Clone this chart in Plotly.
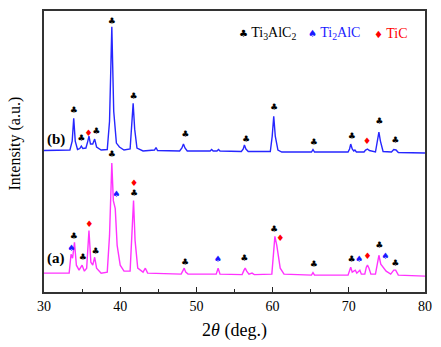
import plotly.graph_objects as go

# ---------------- data ----------------
# pattern (b): 2theta (deg) and intensity (a.u., stacked)
theta_b = [30.0, 33.4, 33.7, 33.9, 34.1, 34.4, 34.7, 34.9, 35.1, 35.5, 35.75, 35.9, 36.1, 36.4,
           36.65, 36.9, 37.5, 38.3, 38.6, 38.9, 39.15, 39.5, 39.9, 40.5, 41.3, 41.5, 41.7, 41.9,
           42.2, 43.0, 44.5, 44.7, 44.9, 47.8, 48.1, 48.3, 48.5, 48.8, 51.8, 52.0, 52.2, 52.7,
           52.9, 53.1, 55.9, 56.15, 56.3, 56.5, 56.8, 59.7, 59.95, 60.15, 60.35, 60.7, 61.2,
           65.1, 65.3, 65.5, 69.9, 70.1, 70.25, 70.45, 70.65, 70.8, 71.0, 72.0, 72.2, 72.45,
           72.7, 73.5, 73.75, 73.95, 74.15, 74.5, 75.6, 75.9, 76.2, 76.5, 80.0]
int_b = [142.5, 143, 152, 175, 152, 143.5, 144.5, 147, 144.5, 145, 152, 157, 149, 149,
         154, 146, 143, 143.5, 172, 267, 182, 150, 146, 143, 144, 167, 190, 164,
         145, 142, 143, 145.5, 142.5, 142, 145, 149, 145, 142, 142, 143.5, 142, 142,
         143.5, 142, 141.5, 144, 148, 144, 141.5, 141.5, 157, 177, 157, 143, 141,
         141, 143.5, 141, 141, 144, 149, 144, 142, 143, 141, 141, 143, 144,
         142.5, 141, 152, 161, 152, 141.5, 141, 143.5, 143, 140.5, 140]

# pattern (a)
theta_a = [30.0, 33.3, 33.55, 33.75, 34.0, 34.25, 34.6, 35.0, 35.3, 35.6, 35.9, 36.15, 36.4,
           36.65, 36.9, 37.5, 38.3, 38.6, 38.9, 39.1, 39.35, 39.6, 40.0, 40.5, 41.3, 41.55,
           41.75, 41.95, 42.3, 43.0, 43.3, 43.6, 48.0, 48.2, 48.4, 48.6, 48.9, 52.6, 52.85,
           53.1, 56.0, 56.25, 56.4, 56.6, 56.9, 57.3, 57.6, 59.9, 60.1, 60.3, 60.55, 60.75,
           61.0, 61.5, 65.1, 65.3, 65.5, 69.9, 70.1, 70.25, 70.45, 70.65, 70.85, 71.05, 71.25,
           71.45, 71.65, 72.1, 72.3, 72.45, 72.65, 72.9, 73.5, 73.75, 73.95, 74.2, 74.5, 74.7,
           74.9, 75.5, 75.9, 76.15, 76.5, 80.0]
int_a = [19, 19, 38, 34, 50, 27, 22, 27, 21, 24, 62, 30, 27,
         35, 24, 19, 20, 57, 130, 92, 84, 47, 27, 21, 21, 57,
         92, 52, 24, 20, 24, 19, 18, 21, 24, 20, 18, 18, 24,
         18, 17.5, 22, 24, 21, 18, 19, 17.5, 18, 42, 56, 47, 37,
         24, 18, 17, 19.5, 17, 17, 21, 25, 20, 21, 22, 19, 21,
         22, 18, 18, 25, 27, 24, 18, 18, 30, 37, 28, 25, 24,
         21, 18, 22, 22, 17, 16]

# phase marks: (2theta, intensity level of the symbol)
b_ti3alc2_x = [33.9, 34.9, 36.85, 38.9, 41.75, 48.55, 56.5, 60.2, 65.4, 70.4, 74.0, 76.1]
b_ti3alc2_y = [183, 154.7, 161.3, 272, 197, 158, 153.7, 186, 150.3, 156, 171, 152]
b_tic_x = [35.85, 72.4]
b_tic_y = [159.7, 151.3]

a_ti3alc2_x = [33.9, 35.1, 36.75, 38.9, 41.8, 48.5, 56.3, 60.2, 65.4, 70.35, 74.0, 76.1]
a_ti3alc2_y = [56, 34.7, 40.3, 138.7, 98.7, 29.3, 33, 62.7, 27, 32.7, 46.3, 28.7]
a_ti2alc_x = [33.57, 39.5, 52.8, 71.35, 74.8]
a_ti2alc_y = [43.7, 97.7, 32.5, 32, 35.3]
a_tic_x = [35.95, 41.8, 61.0, 72.45]
a_tic_y = [67.7, 108.7, 54, 35.3]

x_ticks = [30, 40, 50, 60, 70, 80]

# ---------------- styles ----------------
SERIF = "Liberation Serif, Times New Roman, serif"
SYM = "DejaVu Sans"
C_BLK, C_BLU, C_RED = "#000000", "#1a1aff", "#ff0000"
C_B, C_A = "#2626ff", "#ff33ff"

fig = go.Figure()
fig.add_trace(go.Scatter(x=theta_b, y=int_b, mode="lines",
                         line=dict(color=C_B, width=1.4), showlegend=False))
fig.add_trace(go.Scatter(x=theta_a, y=int_a, mode="lines",
                         line=dict(color=C_A, width=1.4), showlegend=False))

def marks(xs, ys, sym, color, size):
    fig.add_trace(go.Scatter(x=xs, y=ys, mode="text", text=[sym] * len(xs),
                             textposition="middle center",
                             textfont=dict(family=SYM, size=size, color=color),
                             showlegend=False, hoverinfo="skip"))

marks(b_ti3alc2_x, b_ti3alc2_y, "♣", C_BLK, 9)
marks(a_ti3alc2_x, a_ti3alc2_y, "♣", C_BLK, 9)
marks(a_ti2alc_x, a_ti2alc_y, "♠", C_BLU, 9)
marks(b_tic_x, b_tic_y, "♦", C_RED, 9)
marks(a_tic_x, a_tic_y, "♦", C_RED, 9)

# legend as annotations
leg_y = 260
legend_items = [
    (55.3, "<span style='font-family:DejaVu Sans;font-size:10px'>♣</span> Ti<sub>3</sub>AlC<sub>2</sub>", C_BLK),
    (64.4, "<span style='font-family:DejaVu Sans;font-size:10px'>♠</span> Ti<sub>2</sub>AlC", C_BLU),
    (73.0, "<span style='font-family:DejaVu Sans;font-size:10px'>♦</span> TiC", C_RED),
]
for lx, txt, col in legend_items:
    fig.add_annotation(x=lx, y=leg_y, xref="x", yref="y", text=txt, showarrow=False,
                       xanchor="left", yanchor="middle",
                       font=dict(family=SERIF, size=14, color=col))

# pattern labels
fig.add_annotation(x=30.1, y=154, xref="x", yref="y", text="<b>(b)</b>", showarrow=False,
                   xanchor="left", yanchor="middle", font=dict(family=SERIF, size=15, color="#000"))
fig.add_annotation(x=30.1, y=34, xref="x", yref="y", text="<b>(a)</b>", showarrow=False,
                   xanchor="left", yanchor="middle", font=dict(family=SERIF, size=15, color="#000"))

# y-axis title
fig.add_annotation(x=-0.075, y=0.53, xref="paper", yref="paper", text="Intensity (a.u.)",
                   showarrow=False, textangle=-90, xanchor="center", yanchor="middle",
                   font=dict(family=SERIF, size=16, color="#000"))

fig.update_layout(
    width=441, height=347, autosize=False,
    margin=dict(l=44, r=14, t=9, b=55),
    paper_bgcolor="white", plot_bgcolor="white",
    xaxis=dict(range=[30, 80], tickvals=x_ticks, ticktext=[str(v) for v in x_ticks],
               ticks="inside", ticklen=5, tickwidth=1, tickcolor="#222",
               minor=dict(dtick=5, tick0=30, ticks="inside", ticklen=3, tickcolor="#222"),
               showgrid=False, zeroline=False, showline=True, linecolor="#333", linewidth=1.5,
               mirror=True, tickfont=dict(family=SERIF, size=14, color="#000"),
               title=dict(text="2<i>θ</i> (deg.)", font=dict(family=SERIF, size=18, color="#000"),
                          standoff=11)),
    yaxis=dict(range=[0, 283], showticklabels=False, ticks="", showgrid=False, zeroline=False,
               showline=True, linecolor="#333", linewidth=1.5, mirror=True),
)

fig.write_html("out.html")
